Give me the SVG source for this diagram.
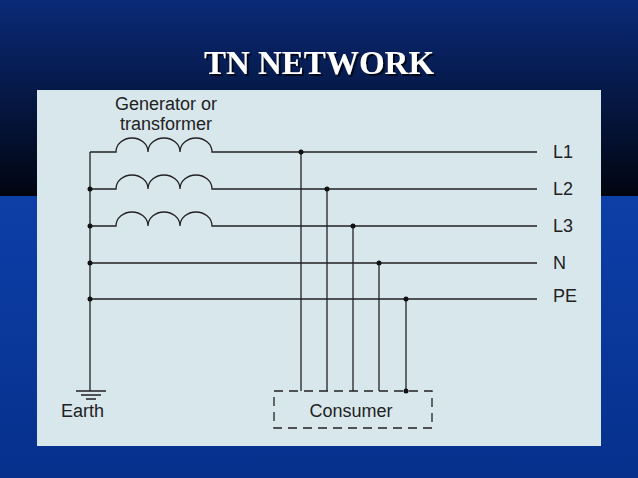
<svg xmlns="http://www.w3.org/2000/svg" width="638" height="478" viewBox="0 0 638 478">
<defs>
<linearGradient id="top" x1="0" y1="0" x2="0" y2="1"><stop offset="0" stop-color="#0a2a78"/><stop offset="1" stop-color="#010510"/></linearGradient>
<linearGradient id="bot" x1="0" y1="0" x2="0" y2="1"><stop offset="0" stop-color="#0d3fa8"/><stop offset="1" stop-color="#06308c"/></linearGradient>
<filter id="sh" x="-10%" y="-20%" width="120%" height="150%"><feDropShadow dx="2" dy="2" stdDeviation="0.5" flood-color="#000" flood-opacity="0.7"/></filter>
<style>
.w{stroke:#222;stroke-width:1.3;fill:none}
.t{font-family:"Liberation Sans",Arial,sans-serif;font-size:18px;fill:#222}
.d{fill:#111}
</style>
</defs>
<rect width="638" height="196" fill="url(#top)"/>
<rect y="196" width="638" height="282" fill="url(#bot)"/>
<text x="319" y="74" text-anchor="middle" font-family="Liberation Serif,serif" font-weight="bold" font-size="33" fill="#fff" filter="url(#sh)">TN NETWORK</text>
<rect x="37" y="90" width="564" height="356" fill="#d8e7ec"/>
<g id="generator">
<text class="t" x="166" y="110" text-anchor="middle">Generator or</text>
<text class="t" x="166" y="130" text-anchor="middle">transformer</text>
<path class="w" d="M90 152H116a16 14 0 0 1 32 0a16 14 0 0 1 32 0a16 14 0 0 1 32 0H537"/>
<path class="w" d="M90 189H116a16 14 0 0 1 32 0a16 14 0 0 1 32 0a16 14 0 0 1 32 0H537"/>
<path class="w" d="M90 226H116a16 14 0 0 1 32 0a16 14 0 0 1 32 0a16 14 0 0 1 32 0H537"/>
</g>
<g id="earth">
<path class="w" d="M76 391H106M81 395H101M86 399H96"/>
<text class="t" x="61" y="417">Earth</text>
</g>
<g id="connectors">
<path class="w" d="M90 152V391M90 263H537M90 299H537"/>
<path class="w" d="M301 152V391M327 189V391M353 226V391M379 263V391M406 299V391"/>
<circle class="d" cx="90" cy="189" r="2.5"/><circle class="d" cx="90" cy="226" r="2.5"/><circle class="d" cx="90" cy="263" r="2.5"/><circle class="d" cx="90" cy="299" r="2.5"/>
<circle class="d" cx="301" cy="152" r="2.5"/><circle class="d" cx="327" cy="189" r="2.5"/><circle class="d" cx="353" cy="226" r="2.5"/><circle class="d" cx="379" cy="263" r="2.5"/><circle class="d" cx="406" cy="299" r="2.5"/><circle class="d" cx="406" cy="391" r="2.5"/>
</g>
<g id="labels">
<text class="t" x="553" y="158">L1</text>
<text class="t" x="553" y="195">L2</text>
<text class="t" x="553" y="232">L3</text>
<text class="t" x="553" y="269">N</text>
<text class="t" x="553" y="302">PE</text>
</g>
<g id="consumer">
<rect x="274" y="391" width="158" height="37" fill="none" stroke="#222" stroke-width="1.3" stroke-dasharray="9,6"/>
<text class="t" x="351" y="417" text-anchor="middle">Consumer</text>
</g>
</svg>
